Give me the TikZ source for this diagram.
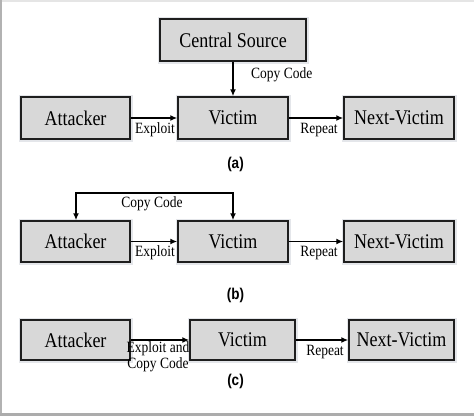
\documentclass[tikz,border=0pt]{standalone}
\usepackage{fontspec}
\usepackage{graphicx}
\setmainfont{Liberation Serif}
\newfontfamily\arialfont{Liberation Sans}
\usetikzlibrary{arrows.meta}
\newcommand{\stt}[1]{\scalebox{1}[1.16]{#1}}
\definecolor{boxfill}{HTML}{D8D8D8}
\definecolor{boxline}{HTML}{1E1E1E}
\definecolor{halo}{HTML}{E4E6EA}
\tikzset{
  box/.style={draw=boxline, line width=1.5pt, fill=boxfill, inner sep=0pt,
    font=\fontsize{18}{20}\selectfont, anchor=center,
    preaction={draw=halo, line width=5pt}},
  arr/.style={line width=1.4pt, draw=black, -{Latex[length=7pt,width=6pt]}},
  lbl/.style={font=\fontsize{13.5}{14}\selectfont, inner sep=0pt},
  captext/.style={font=\arialfont\bfseries\fontsize{13.5}{15}\selectfont, inner sep=0pt}
}
\begin{document}
\begin{tikzpicture}[x=1pt,y=-1pt]
\useasboundingbox (0,0) rectangle (474,416);
% frame edges
\fill[gray!20] (0,0) rectangle (474,2);
\fill[gray!60] (0,0) rectangle (2,416);
\fill[gray!65] (0,413) rectangle (474,416);
% (a)
\node[box, minimum width=146pt, minimum height=42pt] (cs) at (233,40) {\stt{Central Source}};
\node[box, minimum width=109pt, minimum height=42pt] (aa) at (75.5,118) {\stt{Attacker}};
\node[box, minimum width=110pt, minimum height=42pt] (va) at (233,118) {\stt{Victim}};
\node[box, minimum width=110pt, minimum height=42pt] (na) at (399,118) {\stt{Next-Victim}};
\draw[arr] (cs.south) -- (va.north);
\draw[arr] (aa.east) -- (va.west);
\draw[arr] (va.east) -- (na.west);
\node[lbl, anchor=west] (la1) at (251,75) {\stt{Copy Code}};
\node[lbl] (la2) at (155,130) {\stt{Exploit}};
\node[lbl] (la3) at (319,130) {\stt{Repeat}};
\node[captext] (capa) at (235.5,164.5) {\stt{(a)}};
% (b)
\node[box, minimum width=109pt, minimum height=41pt] (ab) at (75.5,241.5) {\stt{Attacker}};
\node[box, minimum width=110pt, minimum height=41pt] (vb) at (233,241.5) {\stt{Victim}};
\node[box, minimum width=110pt, minimum height=41pt] (nb) at (399,241.5) {\stt{Next-Victim}};
\coordinate (bl) at (76,193);
\coordinate (br) at (233,193);
\draw[arr, {Latex[length=7pt,width=6pt]}-{Latex[length=7pt,width=6pt]}] (ab.north -| bl) -- (bl) -- (br) -- (vb.north);
\node[lbl] (lb1) at (152,204) {\stt{Copy Code}};
\draw[arr] (ab.east) -- (vb.west);
\draw[arr] (vb.east) -- (nb.west);
\node[lbl] (lb2) at (155,253) {\stt{Exploit}};
\node[lbl] (lb3) at (319,253) {\stt{Repeat}};
\node[captext] (capb) at (235.5,295) {\stt{(b)}};
% (c)
\node[box, minimum width=109pt, minimum height=40pt] (ac) at (75.5,340) {\stt{Attacker}};
\node[box, minimum width=105pt, minimum height=40pt] (vc) at (242.5,340) {\stt{Victim}};
\node[box, minimum width=105pt, minimum height=40pt] (nc) at (401.5,340) {\stt{Next-Victim}};
\draw[arr] (ac.east) -- (vc.west);
\draw[arr] (vc.east) -- (nc.west);
\node[lbl] (lc1) at (158,357) {\stt{\begin{tabular}{@{}c@{}}Exploit and\\Copy Code\end{tabular}}};
\node[lbl] (lc2) at (325,352) {\stt{Repeat}};
\node[captext] (capc) at (235.5,381) {\stt{(c)}};
\end{tikzpicture}
\end{document}
